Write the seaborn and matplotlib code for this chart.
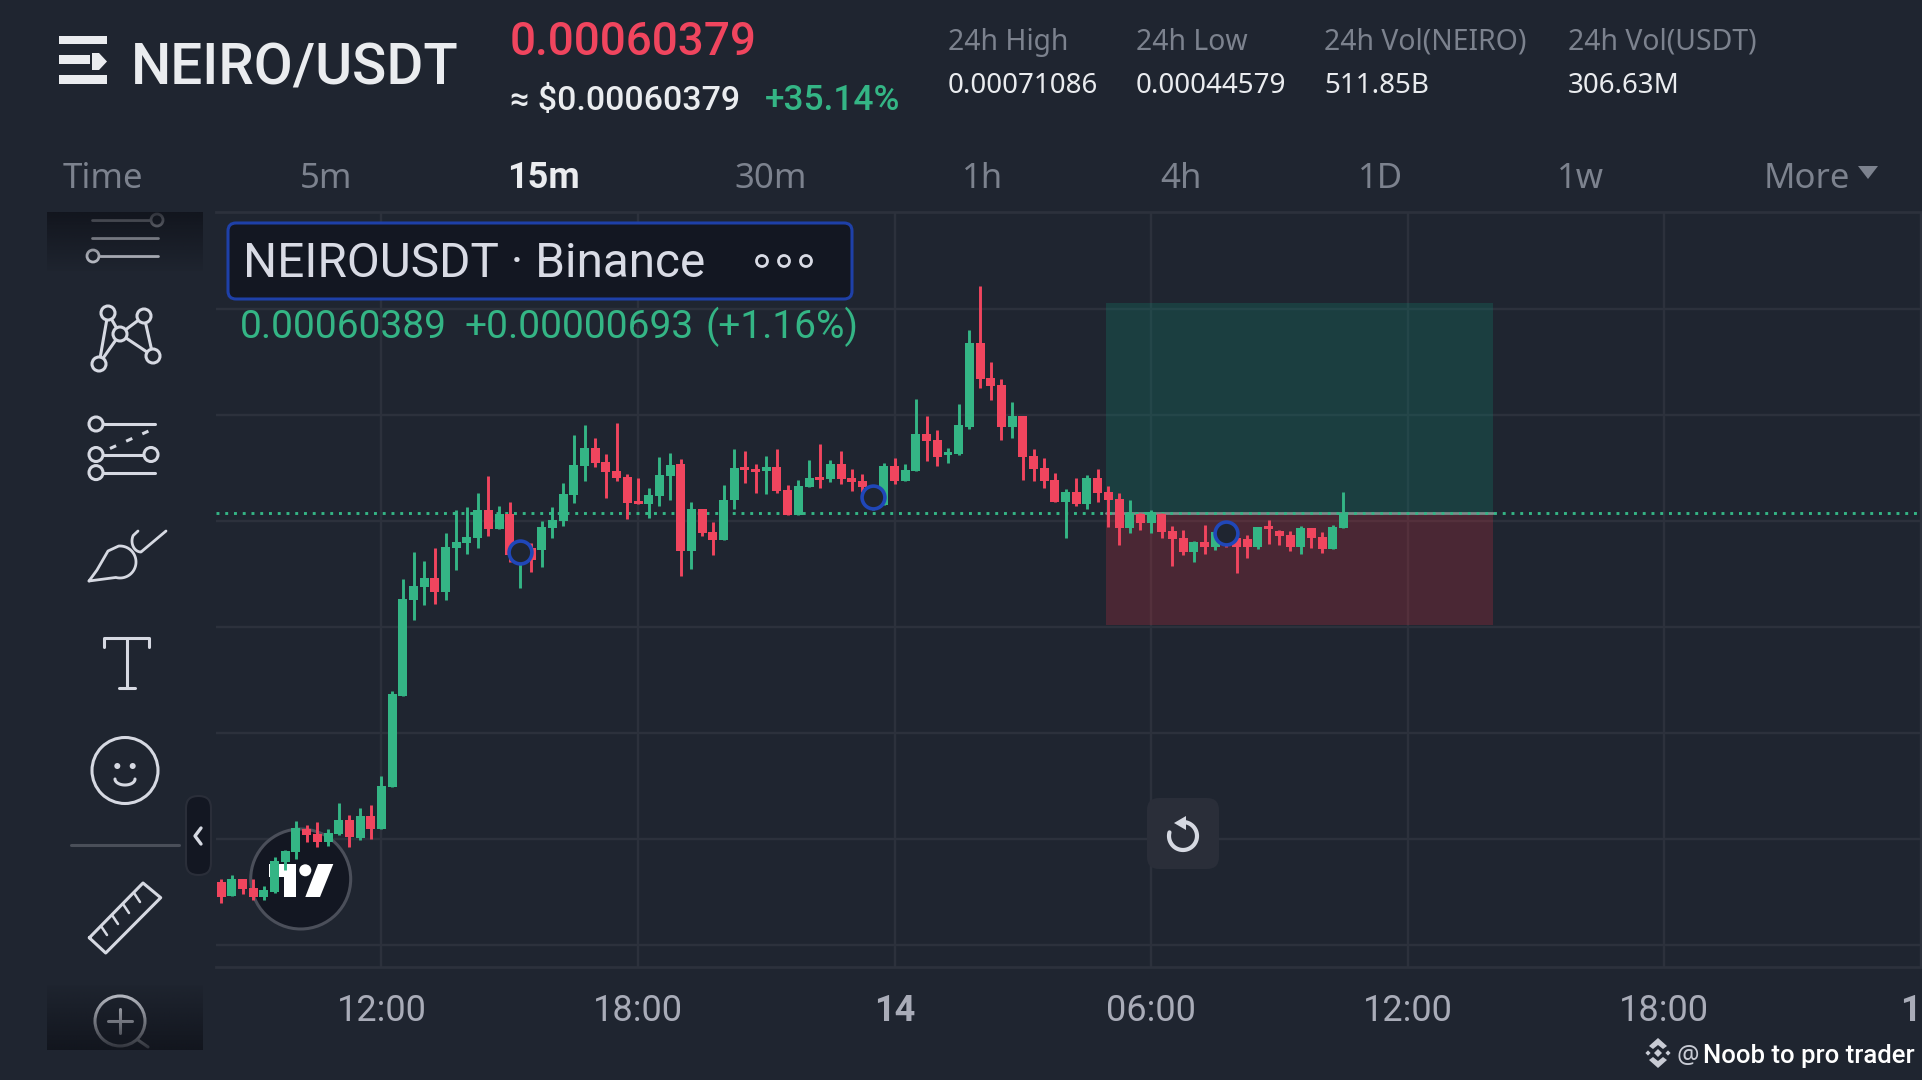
import numpy as np
import pandas as pd
import matplotlib
matplotlib.use("Agg")
import matplotlib.pyplot as plt
import seaborn as sns
from matplotlib.patches import Circle, FancyBboxPatch, Polygon

# ---- data (prices in units of 1e-5 USDT, time in hours from 13th 00:00)
candle_times = np.arange(8.25, 34.75, 0.25)

opens = [42.96, 42.33, 43.11, 42.69, 42.28, 42.52, 43.93, 44.40, 45.47, 45.24,
         44.84, 45.22, 45.90, 45.03, 46.09, 45.47, 47.47, 51.76, 56.27, 56.90,
         57.31, 56.67, 58.74, 58.98, 59.21, 60.52, 59.62, 60.33, 58.24, 58.71,
         58.65, 59.67, 60.02, 61.23, 62.61, 63.46, 62.77, 62.36, 62.08, 60.94,
         60.82, 61.18, 62.12, 62.69, 58.60, 60.57, 59.50, 59.10, 60.99, 62.53,
         62.45, 62.36, 62.53, 61.46, 60.30, 61.60, 62.06, 61.97, 62.69, 62.03,
         61.90, 60.91, 60.76, 62.59, 61.89, 62.36, 64.10, 63.82, 63.13, 63.15,
         64.45, 68.40, 66.76, 66.42, 64.43, 64.95, 63.07, 62.50, 61.93, 60.90,
         61.37, 60.80, 62.03, 61.37, 61.04, 59.67, 60.31, 59.91, 60.33, 59.53,
         59.20, 58.54, 59.01, 58.77, 59.42, 59.18, 59.15, 58.77, 59.76, 59.53,
         59.34, 58.77, 59.65, 59.25, 58.68, 59.67]
closes = [42.28, 43.13, 42.64, 42.28, 42.59, 43.95, 44.43, 45.50, 45.19, 44.84,
          45.27, 45.90, 45.08, 46.09, 45.47, 47.50, 51.84, 56.32, 56.93, 57.31,
          56.67, 58.77, 58.99, 59.23, 60.52, 59.62, 60.33, 58.40, 58.79, 58.16,
          59.72, 60.05, 61.27, 62.64, 63.46, 62.72, 62.33, 62.01, 60.87, 60.82,
          61.23, 62.17, 62.66, 58.60, 60.55, 59.42, 59.10, 60.99, 62.50, 62.41,
          62.31, 62.53, 61.40, 60.30, 61.65, 62.03, 61.93, 62.69, 61.97, 61.84,
          61.62, 61.30, 62.59, 61.89, 62.41, 64.10, 63.77, 63.02, 63.24, 64.53,
          68.40, 66.70, 66.37, 64.43, 64.95, 63.02, 62.45, 61.89, 60.90, 61.37,
          60.80, 62.03, 61.32, 60.99, 59.67, 60.36, 59.91, 60.43, 59.48, 59.15,
          58.54, 59.01, 58.77, 59.50, 59.03, 58.79, 58.77, 59.72, 59.62, 59.29,
          58.77, 59.67, 59.20, 58.68, 59.72, 60.38]
highs = [43.11, 43.29, 43.11, 43.11, 42.78, 44.17, 44.48, 45.83, 45.66, 45.79,
         45.46, 46.70, 46.13, 46.46, 46.61, 47.97, 51.98, 57.25, 58.52, 58.10,
         58.71, 59.42, 60.52, 60.65, 61.31, 62.12, 60.71, 60.90, 58.95, 58.95,
         60.02, 60.65, 61.78, 64.06, 64.53, 63.90, 63.16, 64.61, 62.22, 62.01,
         61.54, 63.00, 63.19, 62.91, 60.88, 60.57, 59.97, 61.70, 63.38, 63.30,
         62.69, 63.07, 63.40, 61.70, 61.93, 62.86, 63.63, 62.86, 63.30, 62.44,
         62.22, 61.46, 62.72, 62.96, 62.67, 65.74, 64.95, 64.29, 63.44, 65.50,
         69.01, 71.09, 67.48, 66.70, 65.61, 64.95, 63.40, 62.97, 62.26, 61.51,
         62.03, 62.17, 62.45, 61.65, 61.31, 60.99, 60.36, 60.52, 60.36, 59.76,
         59.58, 59.06, 59.81, 59.58, 59.73, 59.34, 59.34, 59.72, 60.05, 59.58,
         59.53, 59.75, 59.67, 59.48, 59.81, 61.37]
lows = [42.00, 42.33, 42.41, 42.12, 42.12, 42.44, 43.54, 44.06, 44.86, 44.64,
        44.67, 45.19, 44.62, 44.95, 44.98, 45.47, 47.47, 51.76, 55.33, 56.04,
        56.09, 56.27, 57.69, 58.44, 58.73, 59.29, 59.62, 58.08, 56.86, 57.61,
        57.85, 59.21, 59.76, 60.85, 61.89, 62.53, 61.08, 61.89, 60.11, 60.82,
        60.14, 60.71, 60.99, 57.41, 57.74, 59.29, 58.40, 59.10, 60.57, 61.78,
        61.31, 61.27, 61.34, 60.28, 60.28, 61.60, 61.56, 61.86, 61.76, 61.43,
        61.38, 60.52, 60.76, 61.75, 61.89, 62.36, 62.82, 62.59, 62.72, 63.11,
        64.34, 66.27, 65.71, 63.82, 63.92, 61.93, 61.89, 61.56, 60.90, 59.20,
        60.71, 60.57, 60.90, 59.72, 58.87, 59.43, 59.58, 59.43, 59.20, 57.88,
        58.40, 58.07, 58.44, 58.63, 58.79, 57.55, 58.26, 58.68, 58.92, 58.87,
        58.59, 58.44, 58.73, 58.49, 58.68, 59.67]

last_price = 60.39
signal_times = [15.25, 23.5, 31.75]
signal_prices = [58.54, 61.13, 59.43]

position_start, position_end = 28.95, 38.0
position_target, position_entry, position_stop = 70.28, 60.39, 55.09

tick_hours = [12, 18, 24, 30, 36, 42, 48]
tick_labels = ["12:00", "18:00", "14", "06:00", "12:00", "18:00", "15"]
price_grid = [40, 45, 50, 55, 60, 65, 70]

stat_names = ["24h High", "24h Low", "24h Vol(NEIRO)", "24h Vol(USDT)"]
stat_values = ["0.00071086", "0.00044579", "511.85B", "306.63M"]
stat_x = [948, 1136, 1324, 1568]
frames = ["Time", "5m", "15m", "30m", "1h", "4h", "1D", "1w", "More"]
frame_x = [63, 300, 507, 734, 962, 1160, 1358, 1557, 1764]

BG = "#1f2530"
GRID = "#2c313c"
GREEN = "#34b585"
RED = "#f0455e"
GREY = "#7c828e"
ICON = "#d6d9e2"
DARK = "#131722"
BLUE = "#1e40a8"
WHITE = "#eaecef"

sns.set_theme(style="darkgrid", rc={
    "axes.facecolor": BG, "figure.facecolor": BG, "grid.color": GRID,
    "grid.linewidth": 1.7, "axes.edgecolor": GRID,
})
plt.rcParams["font.family"] = ["Noto Sans", "DejaVu Sans"]

fig = plt.figure(figsize=(19.22, 10.8), dpi=100)

# chart axes: 216..1922 px wide, 212..967 px tall
ax = fig.add_axes([216 / 1922, (1080 - 967) / 1080, (1922 - 216) / 1922, (967 - 212) / 1080], zorder=1)

# pixel overlay for header, toolbar and so on
deco = fig.add_axes([0, 0, 1, 1], zorder=5)
deco.set_xlim(0, 1922)
deco.set_ylim(1080, 0)
deco.axis("off")
deco.patch.set_alpha(0)

df = pd.DataFrame({"t": candle_times, "open": opens, "close": closes, "high": highs, "low": lows})
df["body"] = (df["close"] - df["open"]).abs()
df["base"] = df[["open", "close"]].min(axis=1)
df["up"] = df["close"] >= df["open"]

# tv logo sits under the candles
ax.add_patch(Circle((300.7, 879), 50, transform=deco.transData, fc=DARK, ec="#4b4f5a", lw=2.2, zorder=1))
ax.add_patch(Polygon([(269, 864), (296, 864), (296, 897), (284, 897), (284, 877), (269, 877)],
                     transform=deco.transData, fc="white", ec="none", zorder=1.1))
ax.add_patch(Circle((305.3, 870.3), 6, transform=deco.transData, fc="white", ec="none", zorder=1.1))
ax.add_patch(Polygon([(318, 864), (333.3, 864), (320, 897), (305.3, 897)],
                     transform=deco.transData, fc="white", ec="none", zorder=1.1))

# long position tool
ax.fill_between([position_start, position_end], position_entry, position_target,
                color="#12806c", alpha=0.28, lw=0, zorder=1.2)
ax.fill_between([position_start, position_end], position_stop, position_entry,
                color="#c0303f", alpha=0.27, lw=0, zorder=1.2)
ax.plot([position_start, position_end], [position_entry, position_entry], color="#7b8a8a", lw=2, zorder=1.3)

ax.axhline(last_price, color=GREEN, lw=2.1, ls=(0, (1, 2)), zorder=1.5)

# wicks then bodies
for up, color in [(True, GREEN), (False, RED)]:
    sub = df[df["up"] == up]
    ax.vlines(sub["t"], sub["low"], sub["high"], color=color, lw=2.1, zorder=2)
    sns.barplot(data=sub, x="t", y="body", bottom=sub["base"].values, native_scale=True, width=0.84,
                color=color, saturation=1, errorbar=None, ax=ax, zorder=3, linewidth=0, edgecolor="none")

sns.scatterplot(x=signal_times, y=signal_prices, s=270, facecolor=BG, edgecolor="#2047b8",
                linewidth=2.6, ax=ax, zorder=4, legend=False)

ax.set_xlim(8.13, 48.03)
ax.set_ylim(38.96, 74.58)
ax.set_xlabel("")
ax.set_ylabel("")
ax.set_xticks(tick_hours, tick_labels, fontsize=26, color="#a9acb8", family="Roboto")
ax.get_xticklabels()[2].set_fontweight("bold")
ax.get_xticklabels()[6].set_fontweight("bold")
ax.set_yticks(price_grid, [""] * len(price_grid))
ax.tick_params(axis="both", length=0)
ax.tick_params(axis="x", pad=19)
for side in ["left", "right"]:
    ax.spines[side].set_visible(False)
for side in ["top", "bottom"]:
    ax.spines[side].set_visible(True)
    ax.spines[side].set_color(GRID)
    ax.spines[side].set_linewidth(2)


# ---- small drawing helpers, coordinates are pixels
def line(xs, ys, color=ICON, lw=2.2, z=5):
    deco.plot(xs, ys, color=color, lw=lw, solid_capstyle="round", zorder=z)


def ring(x, y, r, color=ICON, lw=2.2, fc="none", z=6):
    deco.add_patch(Circle((x, y), r, fc=fc, ec=color, lw=lw, zorder=z))


def box(x0, y0, x1, y1, r, fc, ec="none", lw=0, z=4):
    deco.add_patch(FancyBboxPatch((x0, y0), x1 - x0, y1 - y0, boxstyle=f"round,pad=0,rounding_size={r}",
                                  fc=fc, ec=ec, lw=lw, zorder=z))


def label(x, y, s, size, color=WHITE, **kw):
    deco.text(x, y, s, fontsize=size, color=color, va="baseline", ha=kw.pop("ha", "left"), zorder=7, **kw)


def arc(cx, cy, rx, ry, a0, a1):
    a = np.radians(np.linspace(a0, a1, 60))
    return cx + rx * np.cos(a), cy + ry * np.sin(a)


# ---- header
deco.add_patch(Polygon([(59, 36), (107, 36), (107, 44), (59, 44)], fc=WHITE, ec="none"))
deco.add_patch(Polygon([(59, 55), (90, 55), (90, 64), (59, 64)], fc=WHITE, ec="none"))
deco.add_patch(Polygon([(59, 75), (107, 75), (107, 84), (59, 84)], fc=WHITE, ec="none"))
deco.add_patch(Polygon([(92, 53), (99, 53), (107, 61.5), (99, 70), (92, 70)], fc=WHITE, ec="none"))
label(131, 84, "NEIRO/USDT", 40.8, fontweight="medium", family="Roboto")
label(510, 55, "0.00060379", 33, RED, fontweight="medium", family="Roboto")
label(510, 110, "≈ $0.00060379", 24.5, fontweight="medium", family=["Roboto", "DejaVu Sans"])
label(765, 110, "+35.14%", 25.4, GREEN, fontweight="medium", family="Roboto")
for x, name, value in zip(stat_x, stat_names, stat_values):
    label(x, 50, name, 20.4, GREY)
    label(x, 93, value, 20)
for x, name in zip(frame_x, frames):
    if name == "15m":
        label(x, 188, name, 26, WHITE, fontweight="bold", family="Roboto")
    else:
        label(x, 188, name, 25, GREY)
deco.add_patch(Polygon([(1858, 166), (1878, 166), (1868, 179)], fc=GREY, ec="none"))

# ---- legend box on the chart
box(228, 223, 852, 299, 8, DARK, BLUE, 2.2)
label(243, 277, "NEIROUSDT · Binance", 34.4, "#d9dbe5", family="Roboto")
for x in [762, 784, 806]:
    ring(x, 261, 5.5, "#d9dbe5", 2.0, z=7)
label(240, 338, "0.00060389", 28, GREEN, family="Roboto")
label(465, 338, "+0.00000693", 28, GREEN, family="Roboto")
label(706, 338, "(+1.16%)", 28, GREEN, family="Roboto")

# ---- toolbar icons
line([92, 150], [220, 220], lw=2)
ring(157, 220, 6, lw=2)
line([92, 158], [238, 238], lw=2)
ring(93, 256, 6, lw=2)
line([100, 158], [256, 256], lw=2)

nodes = {"a": (108, 313), "b": (144, 316), "c": (120, 334), "d": (99, 364), "e": (153, 356)}
for p, q in ["ad", "ac", "cb", "be", "ce", "cd"]:
    line([nodes[p][0], nodes[q][0]], [nodes[p][1], nodes[q][1]])
for x, y in nodes.values():
    ring(x, y, 7, fc=BG)

line([103, 155], [424, 424])
ring(96, 424, 7, fc=BG)
line([103, 144], [454.5, 454.5])
ring(96, 454.5, 7, fc=BG)
ring(151, 454.5, 7, fc=BG)
line([103, 155], [472.6, 472.6])
ring(96, 472.6, 7, fc=BG)
deco.plot([110, 150], [448.5, 430.4], color=ICON, lw=2.2, ls=(0, (2.2, 3.6)), zorder=5)

bx, by = arc(120, 562, 16, 16, -95, 105)
line(np.r_[89, 97, 108, bx, 89], np.r_[581, 570, 551, by, 581], lw=2)
hx, hy = arc(141, 541, 9, 11, 210, 90)
line(np.r_[138, hx, 166], np.r_[531, hy, 531], lw=2)

line([104, 104, 149, 149], [647, 638, 638, 647])
line([127, 127], [638, 688])
line([119, 135], [688, 688])

ring(125, 770.5, 33)
deco.add_patch(Circle((117.3, 766), 3, fc=ICON, ec="none", zorder=6))
deco.add_patch(Circle((132.7, 766), 3, fc=ICON, ec="none", zorder=6))
sx, sy = arc(125, 779, 10, 6, 180, 0)
line(sx, sy)

line([71, 179], [844.5, 844.5], color="#4a4f59")

line([89.3, 143, 160.7, 105.7, 89.3], [937.8, 883, 897.7, 953, 937.8])
for x0, y0, x1, y1 in [(101, 926, 107, 935), (112, 915, 118, 924), (123, 904, 129, 913), (134, 893, 140, 902)]:
    line([x0, x1], [y0, y1], lw=1.8)

ring(120, 1021, 25)
line([108, 132], [1021, 1021])
line([120, 120], [1009, 1033])
line([138, 148], [1040, 1047])

# dark fades over top and bottom of the toolbar
fade = np.zeros((64, 1, 4))
fade[..., :3] = matplotlib.colors.to_rgb("#10131b")
fade[:, 0, 3] = np.linspace(0.85, 0.05, 64)
deco.imshow(fade, extent=(47, 203, 271, 212), aspect="auto", zorder=6.5, interpolation="bilinear")
deco.imshow(fade, extent=(47, 203, 985, 1050), aspect="auto", zorder=6.5, interpolation="bilinear")
deco.set_xlim(0, 1922)
deco.set_ylim(1080, 0)

# collapse pill
box(186, 796, 211, 875, 12, DARK, "#2a2e39", 1.5)
line([201, 195, 201], [828, 836, 844], lw=2.4, z=6)

# reset button
box(1147, 798, 1219, 869, 12, "#2a2e39")
rx, ry = arc(1183, 836, 14, 14, -80, 195)
line(rx, ry, lw=3, z=6)
deco.add_patch(Polygon([(1174, 823), (1186, 816), (1186, 830)], fc=ICON, ec="none", zorder=6))

# watermark
cx, cy = 1658, 1053
for dx, dy, r in [(0, 0, 4), (-10, 0, 2.6), (10, 0, 2.6)]:
    deco.add_patch(Polygon([(cx + dx - r, cy + dy), (cx + dx, cy + dy - r), (cx + dx + r, cy + dy),
                            (cx + dx, cy + dy + r)], fc="#c8cbd4", ec="none", zorder=6))
for s in [-1, 1]:
    deco.add_patch(Polygon([(cx - 9, cy + s * 7), (cx, cy + s * 15), (cx + 9, cy + s * 7), (cx + 5, cy + s * 4),
                            (cx, cy + s * 8), (cx - 5, cy + s * 4)], fc="#c8cbd4", ec="none", zorder=6))
label(1676, 1063, "@", 18, "#c8cbd4")
label(1703, 1063, "Noob to pro trader", 18.5, "white", fontweight="medium", family="Roboto")

fig.savefig("out.png", dpi=100, facecolor=BG)
